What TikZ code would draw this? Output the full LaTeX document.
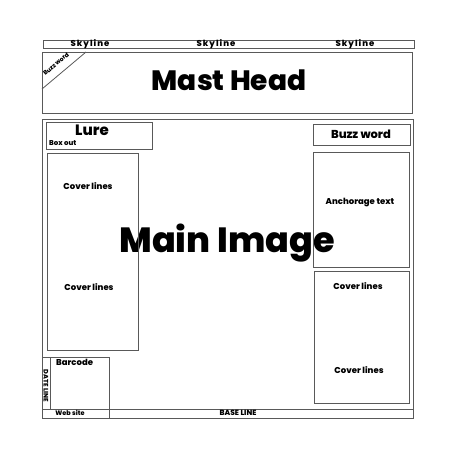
\documentclass[tikz,border=0pt]{standalone}
\usepackage{fontspec}
\setmainfont{Poppins}[BoldFont={Poppins ExtraBold}]
\usepackage{tikz}
\usetikzlibrary{positioning}
\usepackage{xcolor}

\tikzset{
  box/.style={draw=black!65,line width=0.8pt,rectangle,inner sep=0pt,anchor=north west},
  lbl/.style={font=\bfseries\fontsize{8.5}{10}\selectfont,inner sep=0pt},
  tiny/.style={font=\bfseries\fontsize{6.5}{8}\selectfont,inner sep=0pt},
  sky/.style={font=\bfseries\fontsize{8.5}{10}\selectfont\addfontfeatures{LetterSpace=12},inner sep=0pt}
}

\begin{document}
\begin{tikzpicture}[x=1pt,y=-1pt]
	\useasboundingbox[fill=white] (0,0) rectangle (453,453);
	% top strip and mast head
	\node[box,minimum width=371pt,minimum height=8pt] (sky) at (43,40) {};
	\node[sky] (sky1) at (90,44) {Skyline};
	\node[sky] (sky2) at (216,44) {Skyline};
	\node[sky] (sky3) at (355,44) {Skyline};
	\node[box,minimum width=370pt,minimum height=61pt] (mast) at (42,52) {};
	\node[font=\bfseries\fontsize{28}{31}\selectfont,inner sep=0pt] (mhead) at (229,80) {Mast Head};
	\coordinate (cornA) at (42,89);
	\coordinate (cornB) at (86,52);
	\draw[black!65,line width=0.8pt] (cornA) -- (cornB);
	\node[font=\bfseries\fontsize{6}{7}\selectfont,inner sep=0pt,rotate=40] (bzword) at (56,64) {Buzz word};
	% page frame
	\node[box,minimum width=371pt,minimum height=299pt] (page) at (42,119) {};
	\node[font=\bfseries\fontsize{35}{38}\selectfont,inner sep=0pt] (mainimg) at (227,243) {Main Image};
	% left column
	\node[box,minimum width=106pt,minimum height=27pt] (lure) at (46,122) {};
	\node[font=\bfseries\fontsize{15}{17}\selectfont,inner sep=0pt] (luret) at (92,130) {Lure};
	\node[font=\bfseries\fontsize{7}{8}\selectfont,inner sep=0pt,anchor=west] (boxout) at (49,143) {Box out};
	\node[box,minimum width=91pt,minimum height=197pt] (coverL) at (47,153) {};
	\node[lbl] (cl1) at (88,186) {Cover lines};
	\node[lbl] (cl2) at (89,287) {Cover lines};
	% right column
	\node[box,minimum width=97pt,minimum height=21pt] (buzz) at (313,124) {};
	\node[font=\bfseries\fontsize{11.5}{13}\selectfont,inner sep=0pt] (buzzt) at (361,134) {Buzz word};
	\node[box,minimum width=96pt,minimum height=115pt] (anchor) at (313,152) {};
	\node[lbl] (anch) at (360,203) {Anchorage text};
	\node[box,minimum width=95pt,minimum height=132pt] (coverR) at (314,271) {};
	\node[lbl] (cr1) at (358,286) {Cover lines};
	\node[lbl] (cr2) at (359,370) {Cover lines};
	% bottom strip
	\node[box,minimum width=371pt,minimum height=9pt] (base) at (42,409) {};
	\node[font=\bfseries\fontsize{7.5}{9}\selectfont,inner sep=0pt] (baset) at (238,413) {BASE LINE};
	\node[box,minimum width=67pt,minimum height=61pt] (barcode) at (42,357) {};
	\node[box,minimum width=8pt,minimum height=52pt] (dateln) at (42,357) {};
	\node[tiny,rotate=-90] (datet) at (46,386) {DATE LINE};
	\node[lbl,anchor=west] (bart) at (56,362) {Barcode};
	\node[tiny] (web) at (70,413) {Web site};
\end{tikzpicture}
\end{document}
